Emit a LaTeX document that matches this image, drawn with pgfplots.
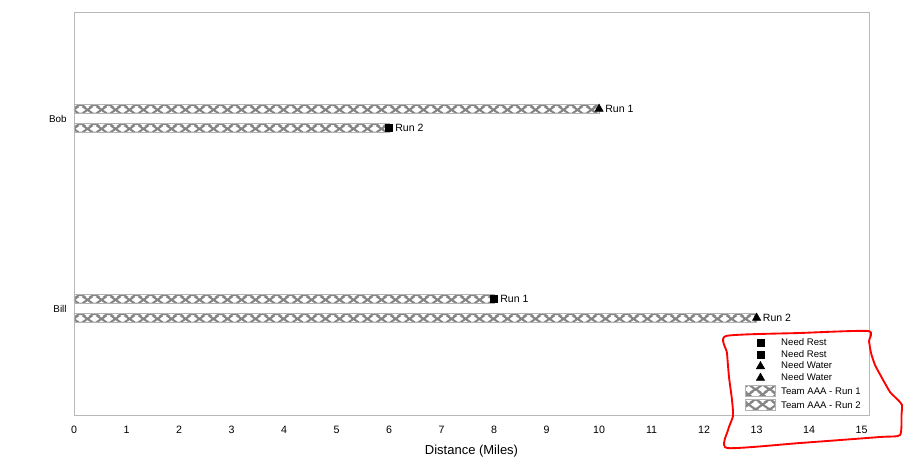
\documentclass[border=0pt]{standalone}
\usepackage{fontspec}
\setmainfont{Liberation Sans}
\usepackage{pgfplots}
\pgfplotsset{compat=1.18}
\usetikzlibrary{patterns}

% X tile for the bars: 10.125pt wide, 7.125pt high (one bar thickness)
\pgfdeclarepatternformonly{xcross}{\pgfpointorigin}{\pgfpoint{10.125pt}{7.125pt}}{\pgfpoint{10.125pt}{7.125pt}}{%
  \pgfsetlinewidth{1.6pt}%
  \pgfpathmoveto{\pgfpoint{-10.125pt}{-19.3125pt}}\pgfpathlineto{\pgfpoint{20.25pt}{2.0625pt}}%
  \pgfpathmoveto{\pgfpoint{-10.125pt}{-12.1875pt}}\pgfpathlineto{\pgfpoint{20.25pt}{9.1875pt}}%
  \pgfpathmoveto{\pgfpoint{-10.125pt}{-5.0625pt}}\pgfpathlineto{\pgfpoint{20.25pt}{16.3125pt}}%
  \pgfpathmoveto{\pgfpoint{-10.125pt}{2.0625pt}}\pgfpathlineto{\pgfpoint{20.25pt}{23.4375pt}}%
  \pgfpathmoveto{\pgfpoint{-10.125pt}{2.0625pt}}\pgfpathlineto{\pgfpoint{20.25pt}{-19.3125pt}}%
  \pgfpathmoveto{\pgfpoint{-10.125pt}{9.1875pt}}\pgfpathlineto{\pgfpoint{20.25pt}{-12.1875pt}}%
  \pgfpathmoveto{\pgfpoint{-10.125pt}{16.3125pt}}\pgfpathlineto{\pgfpoint{20.25pt}{-5.0625pt}}%
  \pgfpathmoveto{\pgfpoint{-10.125pt}{23.4375pt}}\pgfpathlineto{\pgfpoint{20.25pt}{2.0625pt}}%
  \pgfusepath{stroke}%
}

\pgfplotsset{
  runbar/.style={xbar, bar width=7.125pt, bar shift=0pt, draw=black!30, line width=0.6pt,
    pattern=xcross, pattern color=black!48, forget plot},
  flag/.style={only marks, black, point meta=explicit symbolic, nodes near coords,
    every node near coord/.append style={anchor=west, inner sep=0pt, xshift=4.5pt,
      font=\fontsize{7.9}{9}\selectfont}},
  barkey/.style={legend image code/.code={%
    \draw[pattern=xcross, pattern color=black!48, draw=black!30, line width=0.6pt]
      (-2.7pt,-4.3pt) rectangle (19.8pt,4.3pt);}},
}
\newcommand{\keystrut}{\rule[-2.1pt]{0pt}{9.2pt}}

\begin{document}
\begin{tikzpicture}
\begin{axis}[
  scale only axis,
  width=596.25pt, height=302.25pt,
  xmin=0, xmax=15.14,
  ymin=-0.5605, ymax=1.5605,
  xtick={0,1,...,15},
  ytick={0,1}, yticklabels={Bill,Bob},
  major tick length=0pt,
  axis line style={draw=black!28},
  /pgf/number format/assume math mode=true,
  xticklabel style={anchor=center, yshift=-11.25pt, font=\fontsize{8}{9}\selectfont},
  yticklabel style={anchor=east, xshift=-2pt, font=\fontsize{7.4}{8}\selectfont},
  xlabel={Distance (Miles)},
  xlabel style={at={(axis description cs:0.5,0)}, anchor=center, yshift=-27pt,
    font=\fontsize{9.75}{11}\selectfont},
  legend style={at={(1,0)}, anchor=south east, xshift=-3pt, draw=none, fill=none,
    font=\fontsize{7.2}{8.5}\selectfont, inner sep=2pt, row sep=0pt,
    nodes={inner sep=1pt},
    /tikz/every odd column/.append style={column sep=3pt}},
  legend cell align=left,
]

% bars: Run 1 above, Run 2 below each runner
\addplot[runbar] coordinates {(10,1.05) (8,0.05)};
\addplot[runbar] coordinates {(6,0.95) (13,-0.05)};

% flags at the bar ends
\addplot[flag, mark=square*, mark size=2.7pt] coordinates {(8,0.05) [Run 1]};
\addlegendentry{Need Rest}
\addplot[flag, mark=square*, mark size=2.7pt] coordinates {(6,0.95) [Run 2]};
\addlegendentry{Need Rest}
\addplot[flag, mark=triangle*, mark size=3.6pt] coordinates {(10,1.05) [Run 1]};
\addlegendentry{Need Water}
\addplot[flag, mark=triangle*, mark size=3.6pt] coordinates {(13,-0.05) [Run 2]};
\addlegendentry{Need Water}

\addlegendimage{barkey}
\addlegendentry{\keystrut Team AAA - Run 1}
\addlegendimage{barkey}
\addlegendentry{\keystrut Team AAA - Run 2}
\end{axis}

% hand-drawn red outline round the legend, in pixel units from the top left
\begin{scope}[shift={(current axis.north west)}, xshift=-55.5pt, yshift=9pt, x=0.75pt, y=-0.75pt]
  \draw[red, line width=1.4pt] plot[smooth cycle, tension=0.35] coordinates {
    (726,336) (800,333) (868,331) (869,341) (871,353) (875,365) (882,378) (890,392)
    (898,400) (902,405) (901.5,415) (900,435) (880,437) (800,443) (727,448)
    (728,430) (733,416) (732,400) (729,377) (727,353)};
  \pgfresetboundingbox
  \path (0,0) rectangle (903,468);
\end{scope}
\end{tikzpicture}
\end{document}
